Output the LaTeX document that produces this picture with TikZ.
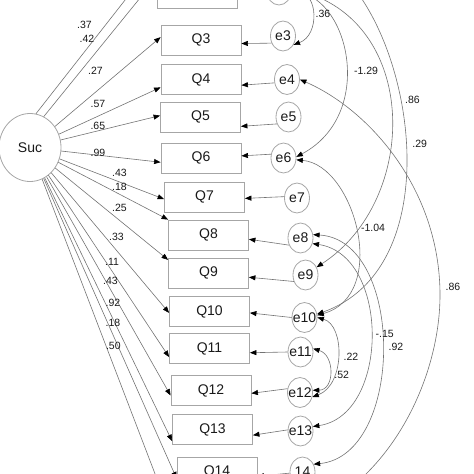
\documentclass[tikz,border=0pt]{standalone}
\usepackage{fontspec}
\setmainfont{Liberation Sans}
\usetikzlibrary{arrows.meta,shapes.geometric}
\newcommand\zw[1]{\makebox[0pt]{#1}}
\begin{document}
\begin{tikzpicture}[x=1pt,y=-1pt,
  obs/.style={draw=black!35, line width=0.8pt, minimum width=80pt, minimum height=30pt, inner sep=0pt, text=black!90, font=\fontsize{14}{14}\selectfont},
  err/.style={ellipse, draw=black!35, line width=0.8pt, minimum width=25pt, minimum height=30pt, inner sep=0pt, text=black!90, font=\fontsize{14}{14}\selectfont},
  lat/.style={ellipse, draw=black!35, line width=0.8pt, minimum width=62pt, minimum height=68pt, inner sep=0pt, text=black!90, font=\fontsize{14}{14}\selectfont},
  tip/.tip={Triangle[length=6.5pt,width=5pt,color=black]},
  regpath/.style={draw=black!55, line width=0.6pt, -tip},
  cov/.style={draw=black!55, line width=0.6pt, tip-tip},
  est/.style={font=\fontsize{10.5}{10.5}\selectfont, inner sep=0pt, text=black!90}
]
\useasboundingbox (0,0) rectangle (474,474);
\clip (0,0) rectangle (474,474);

% latent
\node[lat] (Suc) at (30,147.5) {Suc};

% observed
\coordinate (q1) at (153,-35.6);
\node[obs] (Q2) at (197,-7) {Q2};
\node[obs] (Q3) at (201,40) {Q3};
\node[obs] (Q4) at (201,79.5) {Q4};
\node[obs] (Q5) at (200.5,117) {Q5};
\node[obs] (Q6) at (201,158) {Q6};
\node[obs] (Q7) at (204.5,197) {Q7};
\node[obs] (Q8) at (208.5,235) {Q8};
\node[obs] (Q9) at (208.5,273) {Q9};
\node[obs] (Q10) at (209.5,311.5) {Q10};
\node[obs] (Q11) at (209.5,348.5) {Q11};
\node[obs] (Q12) at (211,390.5) {Q12};
\node[obs] (Q13) at (212.5,429.5) {Q13};
\node[obs] (Q14) at (217,472) {Q14};
\coordinate (q15) at (180,539);

% errors
\coordinate (e1) at (290,-50);
\node[err] (e2) at (279,-10) {\zw{e2}};
\node[err] (e3) at (283,36) {\zw{e3}};
\node[err] (e4) at (287,79.5) {\zw{e4}};
\node[err] (e5) at (288.5,117) {\zw{e5}};
\node[err] (e6) at (283.5,158) {\zw{e6}};
\node[err] (e7) at (297,198) {\zw{e7}};
\node[err] (e8) at (300.5,238) {\zw{e8}};
\node[err] (e9) at (305.5,275) {\zw{e9}};
\node[err] (e10) at (304.5,317.5) {\zw{e10}};
\node[err] (e11) at (300.5,352) {\zw{e11}};
\node[err] (e12) at (300,392.5) {\zw{e12}};
\node[err] (e13) at (300.5,431) {\zw{e13}};
\node[err] (e14) at (302.5,472) {\zw{14}};
\coordinate (e15) at (325,505);

% loadings
\draw[regpath] (Suc.80) -- (q1);
\draw[regpath] (Suc.66) -- (Q2.north west);
\draw[regpath] (Suc) -- (Q3.176);
\draw[regpath] (Suc) -- (Q4.191);
\draw[regpath] (Suc) -- (Q5.178);
\draw[regpath] (Suc) -- (Q6.186);
\draw[regpath] (Suc) -- (Q7.183);
\draw[regpath] (Suc) -- (Q8.north west);
\draw[regpath] (Suc) -- (Q9.162);
\draw[regpath] (Suc) -- (Q10.182);
\draw[regpath] (Suc) -- (Q11.192);
\draw[regpath] (Suc) -- (Q12.187);
\draw[regpath] (Suc) -- (Q13.196);
\draw[regpath] (Suc) -- (Q14.189);
\draw[regpath] (Suc) -- (q15);

% error paths
\draw[regpath] (e2.190) -- (Q2.-3);
\draw[regpath] (e3.212) -- (Q3.-5);
\draw[regpath] (e4.195) -- (Q4.-8);
\draw[regpath] (e5.211) -- (Q5.-13);
\draw[regpath] (e6.163) -- (Q6.3);
\draw[regpath] (e7.174) -- (Q7.-2);
\draw[regpath] (e8.212) -- (Q8.-6);
\draw[regpath] (e9.209) -- (Q9.-6);
\draw[regpath] (e10.180) -- (Q10.-2);
\draw[regpath] (e11.180) -- (Q11.-6);
\draw[regpath] (e12.163) -- (Q12.-4);
\draw[regpath] (e13.175) -- (Q13.-8);
\draw[regpath] (e14.185) -- (Q14.-6);

% covariances
\draw[cov] (e2.-10) .. controls (318,-8) and (320,35) .. (e3.-40);
\draw[cov] (e2.-5) .. controls (350,0) and (375,115) .. (e6.5);
\draw[cov] (e2.5) .. controls (420,20) and (420,200) .. (e9.35);
\draw[cov] (e1) .. controls (400,-40) and (470,260) .. (e10.15);
\draw[cov] (e4.0) .. controls (370,110) and (440,190) .. (440,295) .. controls (440,370) and (400,460) .. (e15);
\draw[cov] (e6.-8) .. controls (355,165) and (390,295) .. (e10.10);
\draw[cov] (e8.-25) .. controls (390,255) and (390,415) .. (e13.20);
\draw[cov] (e8.15) .. controls (405,240) and (405,455) .. (e14.35);
\draw[cov] (e10.0) .. controls (345,325) and (345,385) .. (e12.-20);
\draw[cov] (e11.15) .. controls (335,355) and (335,390) .. (e12.10);

% estimates
\node[est] (l1) at (84.5,25) {.37};
\node[est] (l2) at (87,39) {.42};
\node[est] (l3) at (95.5,70.7) {.27};
\node[est] (l4) at (98,104) {.57};
\node[est] (l5) at (97.8,126) {.65};
\node[est] (l6) at (98,152.7) {.99};
\node[est] (l7) at (119.5,173) {.43};
\node[est] (l8) at (119.5,186.7) {.18};
\node[est] (l9) at (119.5,208.3) {.25};
\node[est] (l10) at (116.5,236.7) {.33};
\node[est] (l11) at (112,261.7) {.11};
\node[est] (l12) at (110.5,280.7) {.43};
\node[est] (l13) at (113,303.3) {.92};
\node[est] (l14) at (113,322.7) {.18};
\node[est] (l15) at (113.3,345.7) {.50};
\node[est] (c1) at (323,14) {.36};
\node[est] (c2) at (366,70.7) {-1.29};
\node[est] (c3) at (412.5,100) {.86};
\node[est] (c4) at (419.7,144) {.29};
\node[est] (c5) at (373,228.3) {-1.04};
\node[est] (c6) at (453,286.7) {.86};
\node[est] (c7) at (384.7,334) {-.15};
\node[est] (c8) at (396,347.3) {.92};
\node[est] (c9) at (351,356.7) {.22};
\node[est] (c10) at (341.7,375) {.52};
\end{tikzpicture}
\end{document}
